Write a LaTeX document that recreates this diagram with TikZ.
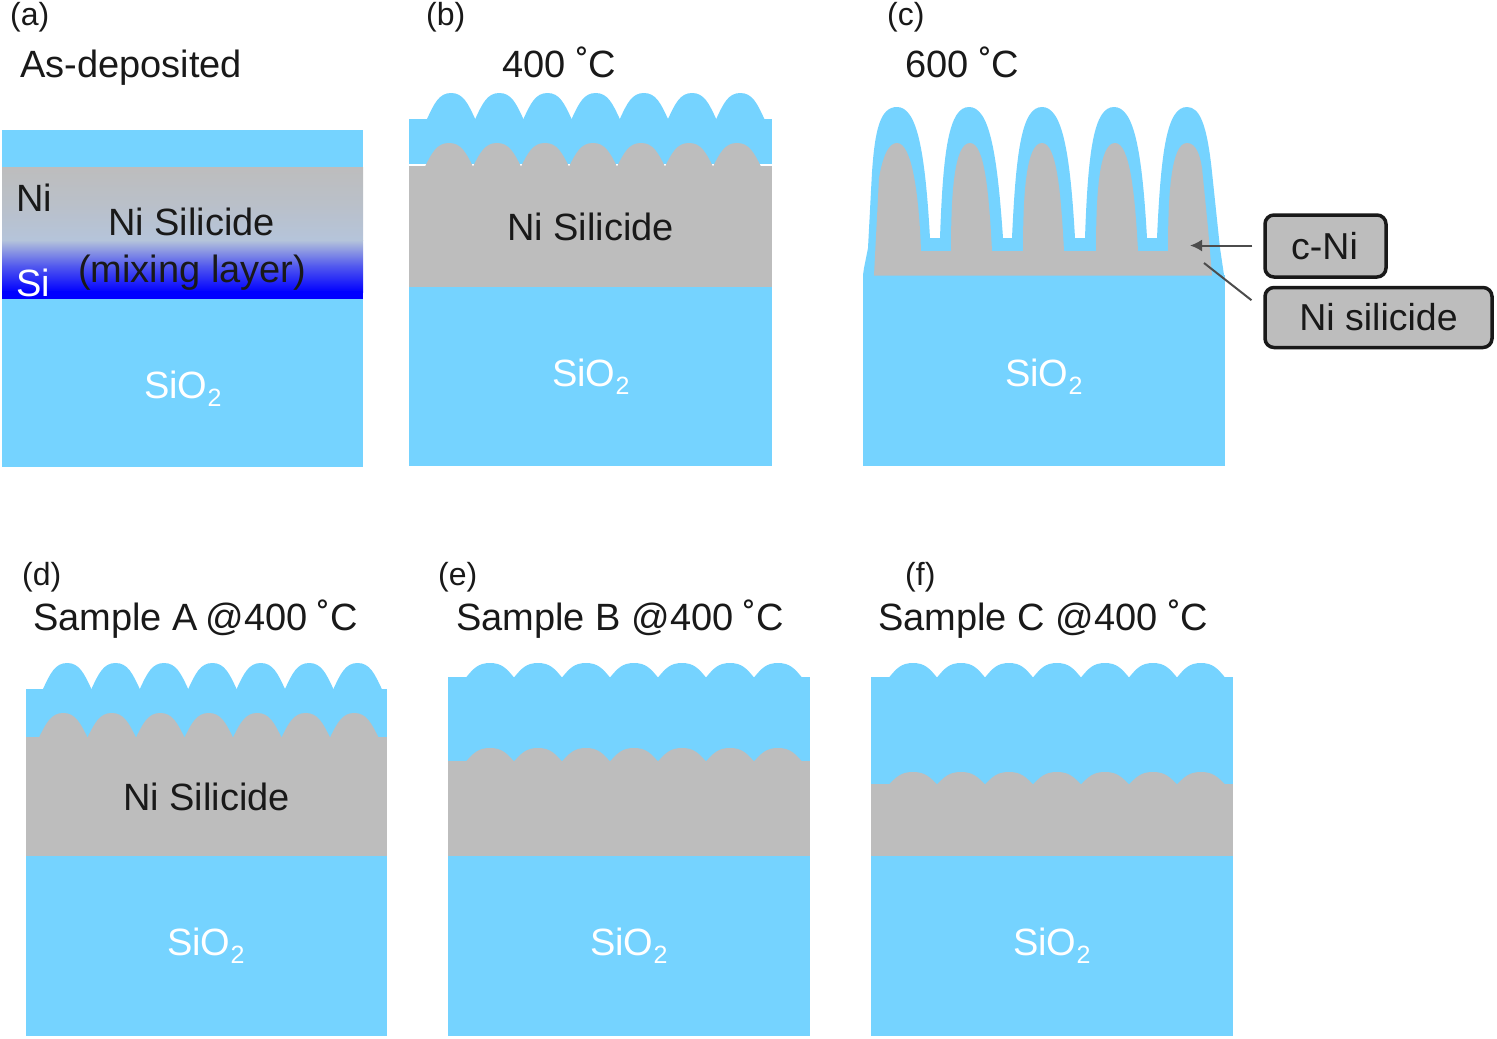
\documentclass[tikz,border=0pt]{standalone}
\usepackage{fontspec}
\usetikzlibrary{arrows.meta}
\setmainfont{Liberation Sans}
\definecolor{sio}{HTML}{75D3FF}
\definecolor{sil}{HTML}{BDBDBD}
\definecolor{mixb}{HTML}{B5C4DA}
\newcommand{\humps}[5]{%
  \foreach \i in {0,...,6}{%
    \fill[#1] ({#2+\i*#5},#3) .. controls ({#2+(\i+.15)*#5},{#3+.6*(#4-#3)}) and ({#2+(\i+.25)*#5},#4) .. ({#2+(\i+.5)*#5},#4)
      .. controls ({#2+(\i+.75)*#5},#4) and ({#2+(\i+.85)*#5},{#3+.6*(#4-#3)}) .. ({#2+(\i+1)*#5},#3) -- cycle;
  }}
\newcommand{\sioo}{SiO\raisebox{-.22em}{\fontsize{25}{25}\selectfont 2}}
\tikzset{
  big/.style={font=\fontsize{38}{38}\selectfont,anchor=base west,inner sep=0pt,text=black!90},
  tag/.style={font=\fontsize{32}{32}\selectfont,anchor=base west,inner sep=0pt,text=black!90},
  white text/.style={big,text=white},
  keybox/.style={draw=black!90,line width=3.5pt,fill=sil,rounded corners=9pt,font=\fontsize{37.5}{37.5}\selectfont,text=black!90,inner sep=0pt},
  lead/.style={draw=black!70,line width=2pt}
}
\begin{document}
\begin{tikzpicture}[x=1pt,y=-1pt]
\useasboundingbox (0,0) rectangle (1497,1039);
% panel a
\fill[sio] (2,130) rectangle (363,167);
\fill[top color=sil,bottom color=mixb,middle color=sil!60!mixb] (2,167) rectangle (363,240);
\fill[top color=mixb,bottom color=blue,middle color=mixb!45!blue] (2,240) rectangle (363,292);
\fill[blue] (2,291) rectangle (363,299);
\fill[sio] (2,299) rectangle (363,467);
% panel b
\fill[sio] (409,119) rectangle (772,166);
\humps{sio}{427}{119}{93}{48.2}
\fill[sil] (409,166) rectangle (772,287);
\fill[white] (409,164.3) rectangle (772,166);
\humps{sil}{425}{166.5}{143}{48}
\fill[sio] (409,287) rectangle (772,466);
% panel c
\fill[sio] (863,275) -- (864,268) -- (868,248) -- (872,172) .. controls (875,130) and (880,107) .. (897,107)
  .. controls (917,107) and (925,150) .. (930,238) -- (940,238)
  .. controls (943,150) and (949,107) .. (969,107) .. controls (989,107) and (997,150) .. (1003,238) -- (1012,238)
  .. controls (1016,150) and (1022,107) .. (1042,107) .. controls (1062,107) and (1070,150) .. (1075,238) -- (1085,238)
  .. controls (1088,150) and (1094,107) .. (1114,107) .. controls (1134,107) and (1142,150) .. (1147,238) -- (1157,238)
  .. controls (1161,150) and (1167,107) .. (1187,107) .. controls (1200,107) and (1207,125) .. (1212,172)
  -- (1220,248) -- (1224,275) -- cycle;
\fill[sio] (863,275) rectangle (1224.5,466);
\fill[sil] (874,275.5) -- (879,178) .. controls (883,155) and (889,143) .. (897,143)
  .. controls (912,143) and (919,195) .. (921,251) -- (951,251)
  .. controls (951,195) and (954,143) .. (970,143) .. controls (985,143) and (989,195) .. (992,251) -- (1023,251)
  .. controls (1023,195) and (1026,143) .. (1042,143) .. controls (1057,143) and (1061,195) .. (1064,251) -- (1096,251)
  .. controls (1096,195) and (1099,143) .. (1115,143) .. controls (1130,143) and (1135,195) .. (1138,251) -- (1168,251)
  .. controls (1168,195) and (1171,143) .. (1187,143) .. controls (1196,143) and (1200,155) .. (1202,168)
  -- (1208,228) -- (1212,275.5) -- cycle;
% panel d
\fill[sio] (26,688.5) rectangle (387,737);
\humps{sio}{43}{689}{663}{48.4}
\fill[sil] (26,737) rectangle (387,856);
\humps{sil}{39}{737.5}{713}{48.5}
\fill[sio] (26,856) rectangle (387,1036);
% panel e
\fill[sio] (448,677) rectangle (810,761);
\humps{sio}{466}{677.5}{663}{48}
\fill[sil] (448,761) rectangle (810,856);
\humps{sil}{466}{761.5}{748}{48}
\fill[sio] (448,856) rectangle (810,1036);
% panel f
\fill[sio] (871,677) rectangle (1233,784);
\humps{sio}{889}{677.5}{663}{48}
\fill[sil] (871,784) rectangle (1233,856);
\humps{sil}{889}{784.5}{772}{48}
\fill[sio] (871,856) rectangle (1233,1036);
% tags
\node[tag] (ta) at (10,25) {(a)};
\node[tag] (tb) at (426,25) {(b)};
\node[tag] (tc) at (887,25) {(c)};
\node[tag] (td) at (22,585) {(d)};
\node[tag] (te) at (438,585) {(e)};
\node[tag] (tf) at (905,585) {(f)};
% titles
\node[big] (h1) at (20,77.5) {As-deposited};
\node[big] (h2) at (502,77.5) {400 ˚C};
\node[big] (h3) at (905,77.5) {600 ˚C};
\node[big] (h4) at (33,630) {Sample A\kern-3pt{} @400 ˚C};
\node[big] (h5) at (456,630) {Sample B @400 ˚C};
\node[big] (h6) at (878,630) {Sample C @400 ˚C};
% layer labels
\node[big] (ni) at (16,211) {Ni};
\node[big] (sia) at (108,235.5) {Ni Silicide};
\node[big] (mix) at (78,282) {(mixing layer)};
\node[white text] (si) at (16,296) {Si};
\node[big] (sib) at (507,240.5) {Ni Silicide};
\node[big] (sid) at (123,810.5) {Ni Silicide};
\node[white text] (oa) at (144,398) {\sioo};
\node[white text] (ob) at (552,386) {\sioo};
\node[white text] (oc) at (1005,386) {\sioo};
\node[white text] (od) at (167,955) {\sioo};
\node[white text] (oe) at (590,955) {\sioo};
\node[white text] (of) at (1013,955) {\sioo};
% key
\node[keybox,minimum width=121pt,minimum height=62pt] (cni) at (1325.5,246) {\kern-2pt c-Ni};
\node[keybox,minimum width=227pt,minimum height=60pt] (nis) at (1378.5,317.5) {Ni silicide};
\coordinate (cnitip) at (1190,245.5);
\coordinate (nistip) at (1204,263);
\draw[lead,-{Latex[length=12pt,width=12pt]},shorten <=11pt] (cni.west |- cnitip) -- (cnitip);
\draw[lead,shorten <=15pt] (nis.176) -- (nistip);
\end{tikzpicture}
\end{document}
